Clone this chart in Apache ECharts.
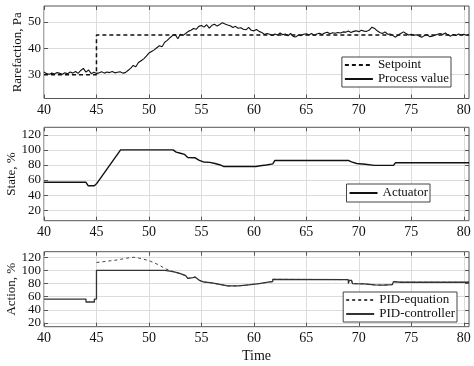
<!DOCTYPE html>
<html><head><meta charset="utf-8">
<script src="https://cdn.jsdelivr.net/npm/echarts@6/dist/echarts.min.js"></script>
<style>html,body{margin:0;padding:0;background:#fff}#c{width:474px;height:366px}</style>
</head><body><div id="c"></div>
<script>
// ---- data ----
const timeStart = 40, timeStep = 0.25;
const processValue = [
 31.0,30.4,30.2,30.6,30.3,30.8,30.5,30.2,30.7,30.4,31.0,30.6,31.2,30.5,31.6,32.4,31.0,31.8,30.4,30.9,
 30.5,30.7,31.1,30.6,31.0,30.8,31.2,30.7,30.9,31.1,30.6,30.8,
 31.6,32.4,33.5,33.0,34.6,35.3,36.0,37.0,38.2,38.8,39.4,40.2,41.0,40.6,42.3,43.0,44.0,44.8,45.2,43.6,
 45.3,44.9,45.6,46.4,46.8,47.5,47.2,48.3,48.6,48.0,48.9,47.6,48.7,49.1,48.4,49.0,49.7,49.2,48.8,48.5,
 47.9,48.3,47.6,47.8,47.2,47.0,47.9,46.8,46.6,47.1,46.4,46.0,45.2,45.6,45.3,44.8,45.4,45.0,45.8,45.1,
 45.4,44.7,45.6,44.5,44.3,45.0,44.8,45.3,45.5,45.0,45.6,44.9,45.4,45.7,45.2,45.8,46.1,45.5,45.9,45.7,
 46.0,45.8,46.2,46.1,46.5,46.0,46.4,46.6,46.3,46.8,46.5,46.4,46.9,48.0,47.5,46.6,46.0,45.6,46.2,45.3,
 45.4,44.8,44.2,45.0,45.6,46.2,45.6,45.0,45.3,44.9,45.1,44.6,44.2,44.8,45.1,44.4,44.6,44.9,45.3,45.6,
 45.2,45.8,45.0,44.6,45.2,44.8,45.4,45.0,45.3,44.9,45.1
];
const setpoint = [[40,30],[45,30],[45,45],[80.5,45]];
const actuator = [[40,57],[44,57],[44.2,52.5],[44.8,52.5],[45,55],[47.3,100],[52.3,100],[52.6,97],[53,95.5],
 [53.4,94],[53.7,90],[54.4,89.5],[54.8,86],[55.2,84],[55.8,83.5],[56.3,82],[56.8,80],[57.1,78],[60.2,78],
 [60.6,79],[61.2,80],[61.8,81.5],[62,86],[69,86],[69.3,84],[69.8,82],[70.6,81],[71.5,79.5],[73.3,79.5],
 [73.5,83],[80.5,83]];
const pidController = [[40,56.5],[44,56.5],[44,52],[44.8,52],[44.8,56.5],[45,56.5],[45,100],[51.5,100],
 [52,99],[52.5,97.5],[53,95],[53.5,92],[53.7,88],[54.2,89],[54.4,90],[54.8,85],[55.2,82.5],[56,81],[57,78],
 [57.5,76.5],[58.5,76.5],[59.5,78],[60.5,80],[61.5,82.5],[61.8,83],[61.8,86.5],[69,86],[69,80],[69.1,85],
 [69.3,85],[69.4,80],[70.5,79.5],[71.5,78],[72.3,77.5],[73.2,78.5],[73.3,83],[74,82],[80.5,82]];
const pidEquation = [[45,112],[46,114],[47,116],[48,119],[48.5,120],[49,119],[50,115],[51,108],[51.5,103],
 [52,100],[52.5,97.5],[53,95],[53.5,92],[53.7,88],[54.2,89],[54.4,90],[54.8,85],[55.2,82.5],[56,81],[57,78],
 [57.5,76.5],[58.5,76.5],[59.5,78],[60.5,80],[61.5,82.5],[61.8,83],[61.8,86.5],[69,86],[69.3,85],[69.4,80],
 [70.5,79.5],[71.5,78],[72.3,77.5],[73.2,78.5],[73.3,83],[74,82],[80.5,82]];
const xTicks = [40,45,50,55,60,65,70,75,80];
const yTicksTop = [30,40,50];
const yTicksPct = [20,40,60,80,100,120];

// ---- chart ----
const pv = processValue.map((v,i)=>[timeStart + i*timeStep, v]);
const FONT = 'Liberation Serif';
const gridColor = '#dcdcdc', boxColor = '#555';
const grids = [
  {left:44, top:6, width:425, height:92.5},
  {left:44, top:127.3, width:425, height:93.4},
  {left:44, top:251.7, width:425, height:75}
];
const yRanges = [[21,56],[6,130],[14.4,128.5]];
const yTicks = [yTicksTop, yTicksPct, yTicksPct];
const yNames = ['Rarefaction, Pa','State, %','Action, %'];

const xAxes = [], yAxes = [];
grids.forEach((g,i)=>{
  xAxes.push({type:'value', gridIndex:i, min:40, max:80.5,
    axisLine:{show:false},
    axisTick:{show:true, inside:true, length:4, customValues:xTicks, lineStyle:{color:boxColor}},
    axisLabel:{customValues:xTicks, color:'#111', fontFamily:FONT, fontSize:14, margin:5},
    splitLine:{show:true, lineStyle:{color:gridColor, width:1}},
    name: i===2 ? 'Time' : '', nameLocation:'middle', nameGap:23, nameMoveOverlap:false,
    nameTextStyle:{color:'#111', fontFamily:FONT, fontSize:14}
  });
  xAxes.push({type:'value', gridIndex:i, min:40, max:80.5, position:'top',
    axisLine:{show:false}, axisLabel:{show:false}, splitLine:{show:false},
    axisTick:{show:true, inside:true, length:4, customValues:xTicks, lineStyle:{color:boxColor}}
  });
  yAxes.push({type:'value', gridIndex:i, min:yRanges[i][0], max:yRanges[i][1],
    axisLine:{show:false},
    axisTick:{show:true, inside:true, length:4, customValues:yTicks[i], lineStyle:{color:boxColor}},
    axisLabel:{customValues:yTicks[i], color:'#111', fontFamily:FONT, fontSize:13, margin:3},
    splitLine:{show:true, lineStyle:{color:gridColor, width:1}},
    name:yNames[i], nameLocation:'middle', nameGap: i===0 ? 20 : 26, nameRotate:90, nameMoveOverlap:false,
    nameTextStyle:{color:'#111', fontFamily:FONT, fontSize:13}
  });
  yAxes.push({type:'value', gridIndex:i, min:yRanges[i][0], max:yRanges[i][1], position:'right',
    axisLine:{show:false}, axisLabel:{show:false}, splitLine:{show:false},
    axisTick:{show:true, inside:true, length:4, customValues:yTicks[i], lineStyle:{color:boxColor}}
  });
});

const legendBase = {orient:'vertical', backgroundColor:'#fff', borderColor:'#444', borderWidth:1,
  itemWidth:28, itemHeight:10, itemGap:0, padding:[1,2,1,2],
  itemStyle:{opacity:0},
  textStyle:{color:'#111', fontFamily:FONT, fontSize:13, lineHeight:14}};

const option = {
  animation:false,
  color:['#111','#111','#111','#444','#333'],
  grid: grids.map(g=>Object.assign({show:true, borderColor:boxColor, borderWidth:1, backgroundColor:'transparent',
    outerBoundsMode:'none', containLabel:false}, g)),
  xAxis: xAxes, yAxis: yAxes,
  legend: [
    Object.assign({}, legendBase, {data:['Setpoint','Process value'], right:23, top:57}),
    Object.assign({}, legendBase, {data:['Actuator'], right:44, top:184, padding:[2,2,2,2]}),
    Object.assign({}, legendBase, {data:['PID-equation','PID-controller'], right:17, top:292})
  ],
  series: [
    {name:'Setpoint', type:'line', xAxisIndex:0, yAxisIndex:0, data:setpoint, showSymbol:false, symbol:'none',
     itemStyle:{color:'#111'}, lineStyle:{color:'#111', width:1.5, type:[4,3]}, z:3},
    {name:'Process value', type:'line', xAxisIndex:0, yAxisIndex:0, data:pv, showSymbol:false, symbol:'none',
     itemStyle:{color:'#111'}, lineStyle:{color:'#111', width:1.1}, z:4},
    {name:'Actuator', type:'line', xAxisIndex:2, yAxisIndex:2, data:actuator, showSymbol:false, symbol:'none',
     itemStyle:{color:'#111'}, lineStyle:{color:'#111', width:1.4}},
    {name:'PID-equation', type:'line', xAxisIndex:4, yAxisIndex:4, data:pidEquation, showSymbol:false, symbol:'none',
     itemStyle:{color:'#444'}, lineStyle:{color:'#444', width:1, type:[3,3]}, z:3},
    {name:'PID-controller', type:'line', xAxisIndex:4, yAxisIndex:4, data:pidController, showSymbol:false, symbol:'none',
     itemStyle:{color:'#333'}, lineStyle:{color:'#333', width:1.3}, z:4}
  ]
};
const chart = echarts.init(document.getElementById('c'), null, {renderer:'canvas'});
chart.setOption(option);
</script></body></html>
